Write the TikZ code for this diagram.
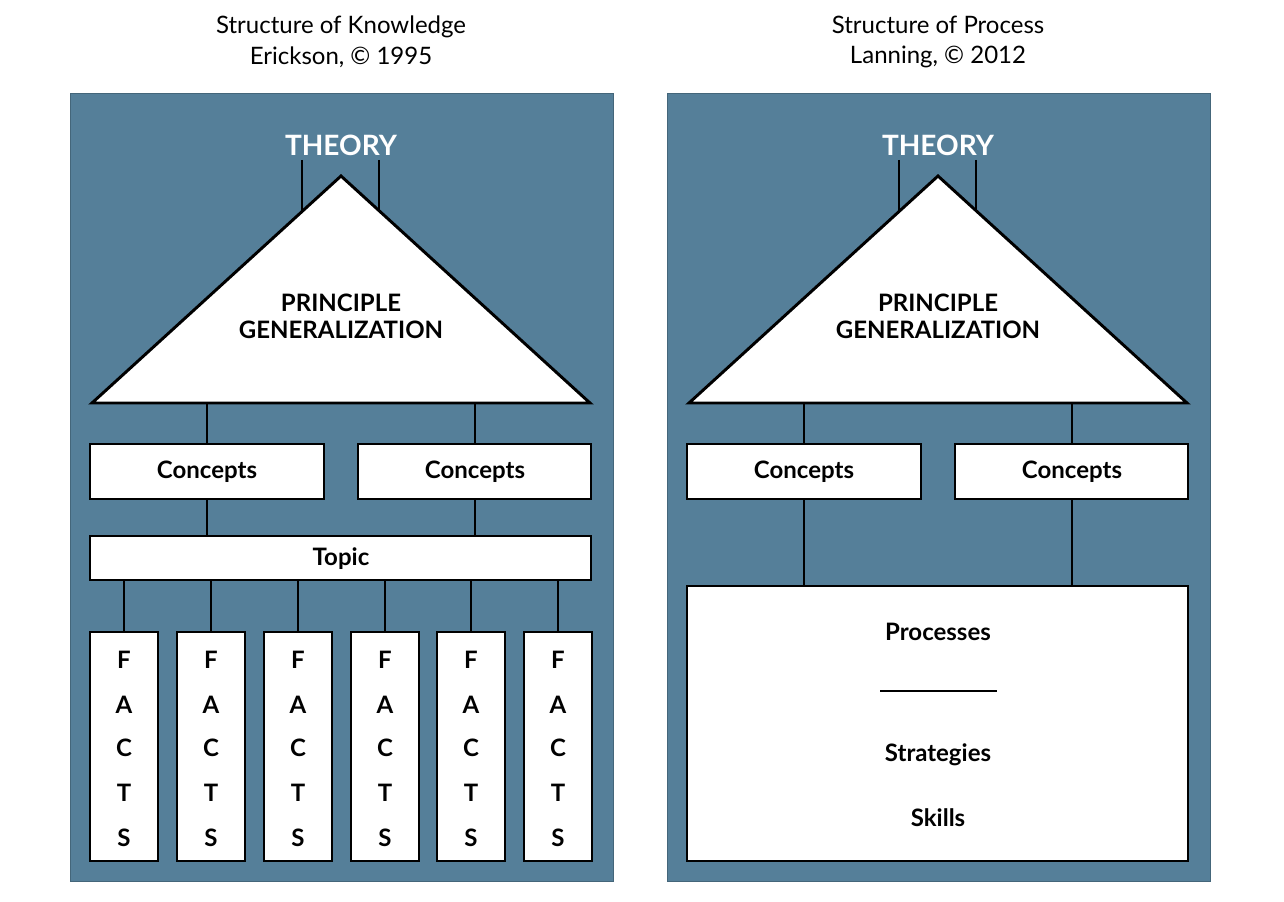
\documentclass[tikz,border=0pt]{standalone}
\usepackage{fontspec}
\setmainfont{Lato}
\definecolor{panel}{HTML}{557F99}
\begin{document}
\begin{tikzpicture}[x=0.75pt,y=-0.75pt,
  ln/.style={draw=black,line width=2.2pt},
  wbox/.style={draw=black,line width=2.2pt,fill=white},
  lab/.style={font=\fontsize{18}{20}\selectfont\bfseries},
  ttl/.style={font=\fontsize{18}{23}\selectfont,align=center}]
\useasboundingbox (0,0) rectangle (1284,902);
\fill[white] (0,0) rectangle (1284,902);
\node[ttl] (t1) at (341,42) {Structure of Knowledge\\Erickson, © 1995};
\node[ttl] (t2) at (938,42) {Structure of Process\\Lanning, © 2012};
\foreach \o/\n in {0/L,597/R}{
  \begin{scope}[xshift=\o*0.75pt]
  \draw[draw=panel!80!black,fill=panel] (70,93) rectangle (613,881);
  \node[lab,white,font=\fontsize{21}{24}\selectfont\bfseries] (th\n) at (341,145) {THEORY};
  \draw[ln] (302,160) -- (302,212);
  \draw[ln] (379,160) -- (379,212);
  \draw[wbox,line join=miter] (341,176) -- (590,403) -- (92,403) -- cycle;
  \node[lab,align=center] (pg\n) at (341,316) {PRINCIPLE\\GENERALIZATION};
  \end{scope}
}
% left concepts
\draw[ln] (207,403) -- (207,536);
\draw[ln] (475,403) -- (475,536);
\draw[wbox] (90,444) rectangle (324,499); \node[lab] (c1) at (207,472) {Concepts};
\draw[wbox] (358,444) rectangle (591,499); \node[lab] (c2) at (475,472) {Concepts};
\draw[wbox] (90,536) rectangle (591,580); \node[lab] (tp) at (341,559) {Topic};
\foreach \x in {124,211,298,385,471,558}{
  \draw[ln] (\x,580) -- (\x,632);
  \draw[wbox] (\x-34,632) rectangle (\x+34,861);
  \foreach \l/\y in {F/660,A/705,C/748,T/793,S/838}
    \node[lab] at (\x,\y) {\l};
}
% right
\draw[ln] (804,403) -- (804,586);
\draw[ln] (1072,403) -- (1072,586);
\draw[wbox] (687,444) rectangle (921,499); \node[lab] (c3) at (804,472) {Concepts};
\draw[wbox] (955,444) rectangle (1188,499); \node[lab] (c4) at (1072,472) {Concepts};
\draw[wbox] (687,586) rectangle (1188,861);
\node[lab] (pr) at (938,632) {Processes};
\draw[line width=1.6pt] (880,691) -- (997,691);
\node[lab] (st) at (938,755) {Strategies};
\node[lab] (sk) at (938,818) {Skills};
\end{tikzpicture}
\end{document}
